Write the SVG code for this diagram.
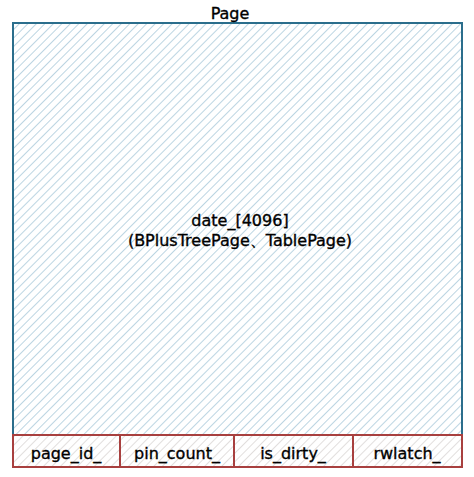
<svg xmlns="http://www.w3.org/2000/svg" width="474" height="477" viewBox="0 0 474 477">
<style>
.t{font-family:"DejaVu Sans","Liberation Sans",sans-serif;font-size:16px;fill:#000;stroke:#000;stroke-width:0.35;text-anchor:middle}
.page{fill:url(#hb);stroke:#2b6e8c;stroke-width:2}
.cell{fill:url(#hg);stroke:#a8403f;stroke-width:2}
</style>
<defs>
<pattern id="hb" patternUnits="userSpaceOnUse" width="6" height="6" patternTransform="rotate(45)">
<rect width="6" height="6" fill="#fff"/>
<line x1="0" y1="0" x2="0" y2="6" stroke="#9fc4d6" stroke-width="1.4"/>
</pattern>
<pattern id="hg" patternUnits="userSpaceOnUse" width="6" height="6" patternTransform="rotate(45)">
<rect width="6" height="6" fill="#fff"/>
<line x1="0" y1="0" x2="0" y2="6" stroke="#d2cccb" stroke-width="1.3"/>
</pattern>
</defs>
<g id="page">
<rect class="page" x="13" y="23" width="449" height="412"/>
<text class="t" x="230" y="19">Page</text>
<text class="t" x="240" y="226">date_[4096]</text>
<text class="t" x="240" y="246">(BPlusTreePage、TablePage)</text>
</g>
<g id="page_id">
<rect class="cell" x="13" y="435" width="107" height="32"/>
<text class="t" x="66" y="459">page_id_</text>
</g>
<g id="pin_count">
<rect class="cell" x="120" y="435" width="114" height="32"/>
<text class="t" x="177" y="459">pin_count_</text>
</g>
<g id="is_dirty">
<rect class="cell" x="234" y="435" width="119" height="32"/>
<text class="t" x="293" y="459">is_dirty_</text>
</g>
<g id="rwlatch">
<rect class="cell" x="353" y="435" width="109" height="32"/>
<text class="t" x="407" y="459">rwlatch_</text>
</g>
<g id="connectors"></g>
</svg>
